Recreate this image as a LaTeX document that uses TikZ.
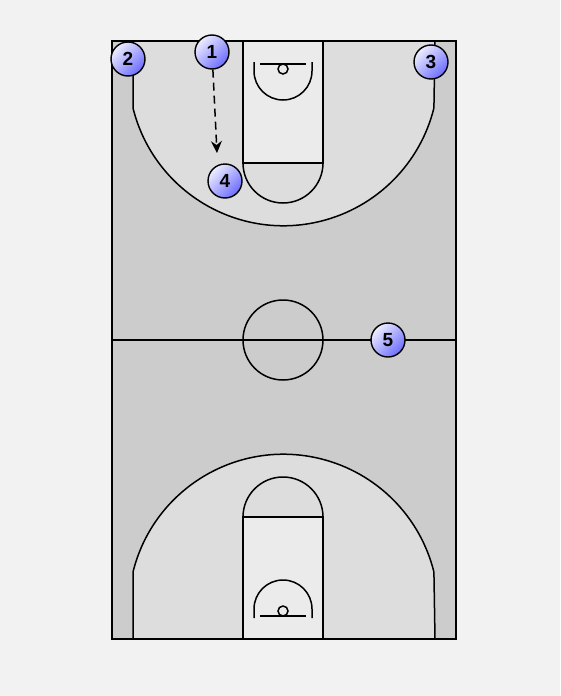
\documentclass[tikz,border=0pt]{standalone}
\usepackage{fontspec}
\setmainfont{Liberation Sans}
\usetikzlibrary{arrows.meta}

\definecolor{bgGray}{HTML}{F2F2F2}
\definecolor{courtGray}{HTML}{CCCCCC}
\definecolor{arcGray}{HTML}{DDDDDD}
\definecolor{keyGray}{HTML}{EBEBEB}
\definecolor{playerLight}{HTML}{EEEEFF}
\definecolor{playerBlue}{HTML}{6C6CFF}

\begin{document}
\begin{tikzpicture}[x=1pt, y=-1pt, line width=1.5pt,
        player/.style={circle, draw=black, line width=1.4pt, minimum size=34pt,
            inner sep=0pt, top color=playerLight, bottom color=playerBlue,
            shading angle=45, font=\fontsize{19}{19}\selectfont\bfseries},
        cutline/.style={dash pattern=on 8pt off 5pt, line width=1.5pt,
            -{Stealth[length=12pt, width=11pt, inset=4pt]}}]
    \useasboundingbox[fill=bgGray] (0,0) rectangle (560,696);

    % 1. Define the coordinates
    % Court corners
    \coordinate (TL) at (112, 41);   % Top Left
    \coordinate (BR) at (456, 639);  % Bottom Right

    % Three point corners
    \coordinate (TPL) at (133, 108);  % Top arc, left end
    \coordinate (BPL) at (133, 572);  % Bottom arc, left end

    % 2. Fill the areas
    \fill[courtGray] (TL) rectangle (BR);
    \fill[arcGray] (133, 41) -- (TPL) arc[start angle=166.1, end angle=13.9, radius=155] -- (435, 41) -- cycle;
    \fill[arcGray] (133, 639) -- (BPL) arc[start angle=193.9, end angle=346.1, radius=155] -- (435, 639) -- cycle;
    \fill[keyGray] (243, 41) rectangle (323, 163);
    \fill[keyGray] (243, 517) rectangle (323, 639);

    % 3. Draw the lines
    % Middle
    \draw (112, 340) -- (456, 340);
    \draw (283, 340) circle (40);

    % Top half
    \draw (133, 41) -- (TPL) arc[start angle=166.1, end angle=13.9, radius=155] -- (435, 41);
    \draw (243, 41) -- (243, 163) -- (323, 163) -- (323, 41);
    \draw (243, 163) arc[start angle=180, end angle=0, radius=40];
    \draw (254, 62) -- (254, 71) arc[start angle=180, end angle=0, radius=29] -- (312, 62);
    \draw (260, 64) -- (306, 64);  % backboard
    \draw (283, 69) circle (5);    % hoop

    % Bottom half
    \draw (133, 639) -- (BPL) arc[start angle=193.9, end angle=346.1, radius=155] -- (435, 639);
    \draw (243, 639) -- (243, 517) -- (323, 517) -- (323, 639);
    \draw (243, 517) arc[start angle=180, end angle=360, radius=40];
    \draw (254, 618) -- (254, 609) arc[start angle=180, end angle=360, radius=29] -- (312, 618);
    \draw (260, 616) -- (306, 616);  % backboard
    \draw (283, 611) circle (5);     % hoop

    % Boundary
    \draw[line width=1.8pt] (TL) rectangle (BR);

    % 4. Place the players
    \node[player] (p1) at (212, 52)  {1};
    \node[player] (p2) at (128, 59)  {2};
    \node[player] (p3) at (431, 62)  {3};
    \node[player] (p4) at (225, 181) {4};
    \node[player] (p5) at (388, 340) {5};

    % 5. The cut
    \coordinate (cutEnd) at (217, 153);
    \draw[cutline] (p1) -- (cutEnd);

\end{tikzpicture}
\end{document}
